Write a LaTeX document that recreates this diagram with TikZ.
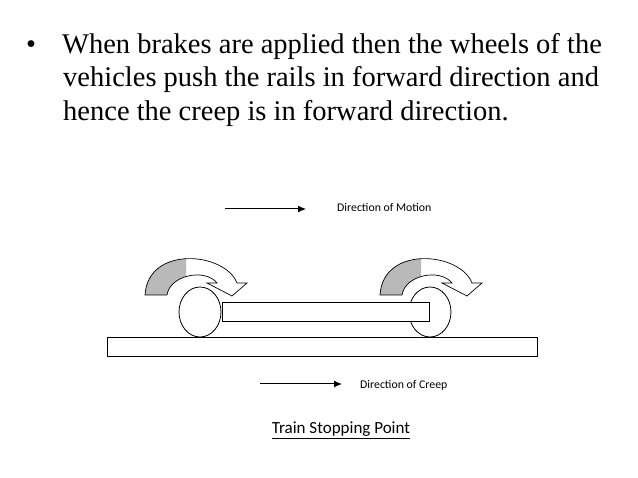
\documentclass[tikz,border=0pt]{standalone}
\usepackage{fontspec}
\setmainfont{Liberation Serif}
\newfontfamily\lbl{Carlito}
\usetikzlibrary{arrows.meta}
\begin{document}
\begin{tikzpicture}[x=1pt,y=-1pt,
  ln/.style={line width=0.8pt},
  arr/.style={line width=1pt,-{Latex[length=8pt,width=7pt]}},
  small/.style={font=\lbl\fontsize{11.8}{12}\selectfont,anchor=west,inner sep=0}]
\useasboundingbox (0,0) rectangle (638,478);
\node[anchor=north west,align=left,inner sep=0,font=\fontsize{28.5}{33.5}\selectfont] (txt) at (26,33)
 {\textbullet\hspace{26pt}When brakes are applied then the wheels of the\\
  \hspace{37pt}vehicles push the rails in forward direction and\\
  \hspace{37pt}hence the creep is in forward direction.};
\coordinate (m1) at (225,209); \coordinate (m2) at (306,209);
\draw[arr] (m1) -- (m2);
\node[small] (mt) at (337,207) {Direction of Motion};
\coordinate (c1) at (260,384); \coordinate (c2) at (342,384);
\draw[arr] (c1) -- (c2);
\node[small] (ct) at (360,385) {Direction of Creep};
\node[font=\lbl\fontsize{17}{19}\selectfont,inner sep=0] (title) at (341,430) {\underline{Train Stopping Point}};
\draw[ln,fill=white] (107,337) rectangle (537,356);
\draw[ln,fill=white] (200,312) ellipse (21 and 25);
\draw[ln,fill=white] (430,312) ellipse (21 and 25);
\draw[ln,fill=white] (222,302) rectangle (429,321);
\foreach \dx in {0,235}{
\begin{scope}[xshift=\dx]
 \path[fill=white] (145,295) -- (167,295) .. controls (170,275) and (205,268) .. (217,283) -- (207,283) -- (232,296) -- (247,283) -- (237,283) .. controls (225,252) and (148,245) .. (145,295) -- cycle;
 \begin{scope}
 \clip (140,240) rectangle (186,300);
 \fill[gray!55] (145,295) -- (167,295) .. controls (170,275) and (205,268) .. (217,283) -- (207,283) -- (232,296) -- (247,283) -- (237,283) .. controls (225,252) and (148,245) .. (145,295) -- cycle;
 \end{scope}
 \draw[line width=0.7pt] (145,295) -- (167,295) .. controls (170,275) and (205,268) .. (217,283) -- (207,283) -- (232,296) -- (247,283) -- (237,283) .. controls (225,252) and (148,245) .. (145,295) -- cycle;
\end{scope}}
\end{tikzpicture}
\end{document}
